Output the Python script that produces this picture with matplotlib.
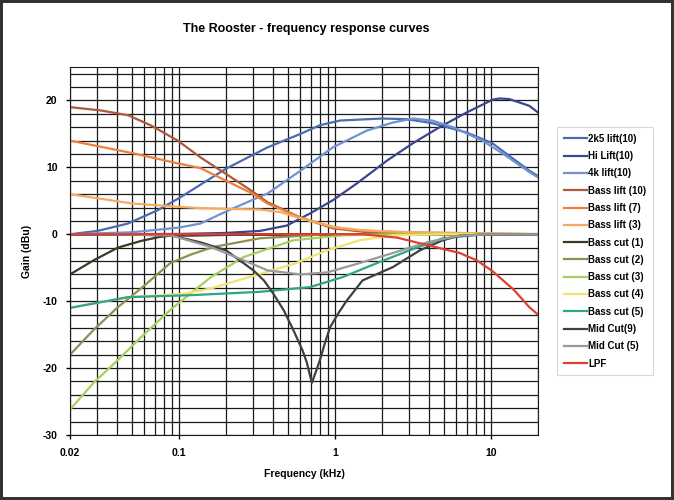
import matplotlib
matplotlib.use("Agg")
import matplotlib.pyplot as plt
from matplotlib.ticker import LogLocator, MultipleLocator, FixedLocator, NullFormatter

plt.rcParams['font.family'] = ['Liberation Sans', 'DejaVu Sans']
plt.rcParams['axes.unicode_minus'] = False

# frequencies in kHz, gains in dBu
f_2k5 = [0.02, 0.03, 0.047, 0.073, 0.1, 0.137, 0.2, 0.37, 0.6, 0.8, 1.08, 2.0, 2.9, 4.2, 7.0, 10.2, 17.6, 20]
g_2k5 = [0, 0.5, 1.6, 3.6, 5.4, 7.4, 9.8, 13, 15, 16.3, 17, 17.3, 17.2, 16.6, 15.2, 13.6, 9.5, 8.7]

f_hi = [0.02, 0.1, 0.2, 0.33, 0.49, 0.69, 0.97, 1.38, 2.15, 3.15, 4.68, 6.97, 10.2, 11.3, 13.1, 17.6, 20]
g_hi = [0, 0.05, 0.2, 0.5, 1.3, 3.1, 5.1, 7.6, 11, 13.6, 16, 18.2, 20.1, 20.3, 20.2, 19.2, 18.2]

f_4k = [0.02, 0.05, 0.1, 0.137, 0.2, 0.3, 0.37, 0.6, 0.97, 1.6, 2.35, 3.15, 4.2, 5.7, 8.8, 12, 17.6, 20]
g_4k = [0, 0.3, 1.0, 1.6, 3.4, 5.2, 6.1, 9.5, 13, 15.5, 16.7, 17.3, 17, 16, 14, 12, 9.3, 8.5]

f_bl10 = [0.02, 0.0316, 0.047, 0.0657, 0.098, 0.137, 0.223, 0.3, 0.368, 0.6, 0.97, 1.6, 3, 20]
g_bl10 = [19, 18.5, 17.8, 16.3, 14, 11.5, 8.3, 6.3, 4.8, 2.5, 0.9, 0.3, 0.1, 0]

f_bl7 = [0.02, 0.051, 0.098, 0.137, 0.2, 0.3, 0.368, 0.6, 0.97, 1.25, 2, 5, 10, 20]
g_bl7 = [14, 12.1, 10.6, 9.9, 8.0, 6.0, 4.6, 2.5, 1.1, 0.7, 0.4, 0.2, 0.1, 0]

f_bl3 = [0.02, 0.05, 0.1, 0.137, 0.2, 0.33, 0.45, 0.6, 0.97, 1.5, 3, 10, 20]
g_bl3 = [6, 4.6, 4.1, 3.9, 3.8, 3.7, 3.3, 2.4, 1.1, 0.6, 0.3, 0.15, 0.05]

f_bc1 = [0.02, 0.0283, 0.0405, 0.057, 0.075, 0.09, 0.12, 0.2, 0.4, 1, 20]
g_bc1 = [-6, -3.9, -2.0, -1.0, -0.4, -0.2, -0.2, -0.1, -0.05, 0, 0]

f_bc2 = [0.02, 0.0283, 0.0405, 0.057, 0.088, 0.12, 0.166, 0.33, 0.89, 20]
g_bc2 = [-18, -14.3, -10.9, -8.1, -4.3, -3.0, -1.9, -0.6, 0, 0]

f_bc3 = [0.02, 0.0283, 0.0405, 0.057, 0.088, 0.16, 0.26, 0.54, 1.12, 3, 20]
g_bc3 = [-26.2, -22.2, -18.8, -15.4, -11.3, -6.4, -3.4, -0.9, -0.15, 0, 0]

f_bc4 = [0.02, 0.047, 0.107, 0.16, 0.29, 0.55, 0.89, 1.44, 2.35, 5, 20]
g_bc4 = [-11, -9.4, -8.9, -8.1, -6.3, -4.4, -2.4, -0.9, -0.15, 0, 0]

f_bc5 = [0.02, 0.047, 0.12, 0.33, 0.69, 1.12, 1.86, 3.0, 4.9, 8.1, 20]
g_bc5 = [-11, -9.4, -9.1, -8.6, -7.9, -6.4, -4.3, -2.4, -0.6, -0.1, 0]

f_mc9 = [0.02, 0.05, 0.09, 0.137, 0.2, 0.3, 0.35, 0.4, 0.47, 0.54, 0.62, 0.66, 0.71,
         0.76, 0.8, 0.86, 0.93, 1.05, 1.19, 1.5, 2.35, 3.5, 4.9, 6.3, 10, 20]
g_mc9 = [0, -0.05, -0.2, -1.2, -2.4, -5.4, -6.9, -8.8, -11.4, -14.3, -17.4, -19.2, -22.2,
         -20.3, -18.8, -16.3, -13.9, -11.8, -9.9, -6.9, -4.9, -2.4, -0.9, -0.2, 0, 0]

f_mc5 = [0.02, 0.05, 0.09, 0.16, 0.26, 0.37, 0.6, 0.89, 1.44, 2.35, 3.9, 6.3, 10, 20]
g_mc5 = [0, -0.05, -0.2, -1.9, -3.9, -5.4, -6.0, -5.7, -4.3, -2.8, -1.2, -0.2, 0, 0]

f_lpf = [0.02, 1.5, 2.5, 4.2, 6.3, 8.1, 10.2, 14, 17.6, 20]
g_lpf = [0, 0, -0.5, -1.8, -2.8, -3.9, -5.5, -8.3, -10.9, -12]

series = [
    ("2k5 lift(10)", f_2k5, g_2k5, "#4a6cb3"),
    ("Hi Lift(10)", f_hi, g_hi, "#3b4592"),
    ("4k lift(10)", f_4k, g_4k, "#6f93d0"),
    ("Bass lift (10)", f_bl10, g_bl10, "#b0583a"),
    ("Bass lift (7)", f_bl7, g_bl7, "#ee7f3c"),
    ("Bass lift (3)", f_bl3, g_bl3, "#f5aa5c"),
    ("Bass cut (1)", f_bc1, g_bc1, "#3b3a26"),
    ("Bass cut (2)", f_bc2, g_bc2, "#8c9053"),
    ("Bass cut (3)", f_bc3, g_bc3, "#a7cf5e"),
    ("Bass cut (4)", f_bc4, g_bc4, "#f0e46a"),
    ("Bass cut (5)", f_bc5, g_bc5, "#2fa586"),
    ("Mid Cut(9)", f_mc9, g_mc9, "#404040"),
    ("Mid Cut (5)", f_mc5, g_mc5, "#9a9a9a"),
    ("LPF", f_lpf, g_lpf, "#e0402e"),
]

fig = plt.figure(figsize=(6.74, 5.0), dpi=100, edgecolor='#333333', linewidth=3)
ax = fig.add_axes([70 / 674, 1 - 435 / 500, 468 / 674, 368 / 500])

ax.axhline(0, color='black', lw=2, zorder=1.5)
for name, f, g, c in series:
    ax.plot(f, g, color=c, lw=1.6, label=name, zorder=2)

ax.set_xscale('log')
ax.set_xlim(0.02, 20)
ax.set_ylim(-30, 25)

ax.xaxis.set_major_locator(FixedLocator([0.02, 0.1, 1, 10]))
ax.set_xticklabels(["0.02", "0.1", "1", "10"])
ax.xaxis.set_minor_locator(LogLocator(base=10, subs=range(1, 10), numticks=20))
ax.xaxis.set_minor_formatter(NullFormatter())
ax.yaxis.set_major_locator(FixedLocator([-30, -20, -10, 0, 10, 20]))
ax.yaxis.set_minor_locator(MultipleLocator(2))

ax.grid(which='both', color='#1a1a1a', lw=0.9, zorder=0)
ax.set_axisbelow(True)
ax.tick_params(which='major', length=3, width=1, labelsize=7.5, pad=6)
ax.tick_params(which='minor', length=0)
for lab in ax.get_xticklabels() + ax.get_yticklabels():
    lab.set_fontweight('bold')
for s in ax.spines.values():
    s.set_color('#1a1a1a')

ax.set_xlabel("Frequency (kHz)", fontsize=7.5, fontweight='bold', labelpad=8)
ax.set_ylabel("Gain (dBu)", fontsize=7.5, fontweight='bold', labelpad=8)
fig.text(0.455, 1 - 29 / 500, "The Rooster - frequency response curves",
         ha='center', va='center', fontsize=9, fontweight='bold')

leg = fig.legend(loc='upper left', bbox_to_anchor=(557 / 674, 1 - 127 / 500),
                 frameon=True, fancybox=False, edgecolor='#d0d0d0',
                 prop={'size': 7.0, 'weight': 'bold'}, handlelength=2.4,
                 handletextpad=0.1, labelspacing=0.75, borderpad=0.7,
                 borderaxespad=0)
leg.get_frame().set_linewidth(0.8)

fig.savefig("out.png", dpi=100)
